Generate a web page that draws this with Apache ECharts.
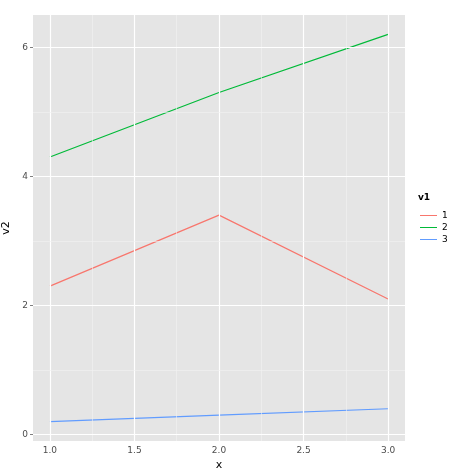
<!DOCTYPE html>
<html><head><meta charset="utf-8">
<script src="https://cdn.jsdelivr.net/npm/echarts@6/dist/echarts.min.js"></script>
<style>html,body{margin:0;padding:0;background:#fff}#c{width:474px;height:474px}</style>
</head><body><div id="c"></div>
<script>
// data
var xs = [1, 2, 3];
var groups = ['1', '2', '3'];
var v1 = [2.3, 3.4, 2.1];
var v2 = [4.3, 5.3, 6.2];
var v3 = [0.2, 0.3, 0.4];
var colors = ['#F8766D', '#00BA38', '#619CFF'];
var xTicks = [1.0, 1.5, 2.0, 2.5, 3.0];
var xMinor = [1.25, 1.75, 2.25, 2.75];
var yTicks = [0, 2, 4, 6];
var yMinor = [1, 3, 5];

var chart = echarts.init(document.getElementById('c'));
function pts(v){ return xs.map(function(x,i){ return [x, v[i]]; }); }
var gridLines = [];
xTicks.forEach(function(v){ gridLines.push({xAxis: v, lineStyle:{color:'#fff', width:1.2, type:'solid'}}); });
xMinor.forEach(function(v){ gridLines.push({xAxis: v, lineStyle:{color:'#f2f2f2', width:0.6, type:'solid'}}); });
yTicks.forEach(function(v){ gridLines.push({yAxis: v, lineStyle:{color:'#fff', width:1.2, type:'solid'}}); });
yMinor.forEach(function(v){ gridLines.push({yAxis: v, lineStyle:{color:'#f2f2f2', width:0.6, type:'solid'}}); });

var lab = {color:'#4d4d4d', fontSize:9, fontFamily:'DejaVu Sans'};
chart.setOption({
  animation: false,
  color: ['#ccc'].concat(colors),
  grid: {left: 33, right: 69, top: 15, bottom: 33, outerBoundsMode: 'none', containLabel: false,
    show: true, backgroundColor: '#E5E5E5', borderWidth: 0},
  xAxis: {type:'value', min:0.9, max:3.1, name:'x', nameLocation:'middle', nameGap:18,
    nameTextStyle:{fontSize:11, color:'#000', fontFamily:'DejaVu Sans'},
    axisLine:{show:false}, splitLine:{show:false},
    axisTick:{show:true, customValues:xTicks, length:3, lineStyle:{color:'#7f7f7f'}},
    axisLabel:Object.assign({customValues:xTicks, formatter:function(v){return v.toFixed(1);}, margin:5}, lab)},
  yAxis: {type:'value', min:-0.1, max:6.5, name:'v2', nameLocation:'middle', nameGap:20,
    nameTextStyle:{fontSize:11, color:'#000', fontFamily:'DejaVu Sans'},
    axisLine:{show:false}, splitLine:{show:false},
    axisTick:{show:true, customValues:yTicks, length:3, lineStyle:{color:'#7f7f7f'}},
    axisLabel:Object.assign({customValues:yTicks, margin:5}, lab)},
  legend: {orient:'vertical', left:415, top:206, itemGap:3, itemWidth:17, itemHeight:14,
    icon:'path://M0,6.5H17V7.5H0Z', data:groups,
    textStyle:{fontSize:9, color:'#000', fontFamily:'DejaVu Sans'}},
  graphic: [{type:'text', left:418, top:193, style:{text:'v1', font:'bold 9px DejaVu Sans', fill:'#000'}}],
  series: [
    {type:'line', name:'grid', data:[], silent:true, z:1,
      markLine:{silent:true, symbol:'none', label:{show:false}, data:gridLines}},
    {type:'line', name:groups[0], data:pts(v1), showSymbol:false, color:colors[0], lineStyle:{width:1.2, color:colors[0]}, itemStyle:{color:colors[0]}, z:3},
    {type:'line', name:groups[1], data:pts(v2), showSymbol:false, color:colors[1], lineStyle:{width:1.2, color:colors[1]}, itemStyle:{color:colors[1]}, z:3},
    {type:'line', name:groups[2], data:pts(v3), showSymbol:false, color:colors[2], lineStyle:{width:1.2, color:colors[2]}, itemStyle:{color:colors[2]}, z:3}
  ]
});
</script>
</body></html>
